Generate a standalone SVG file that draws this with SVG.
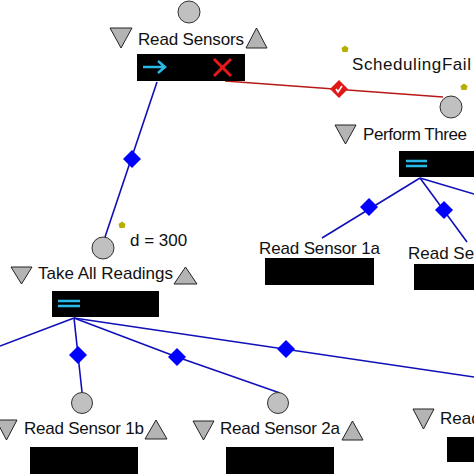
<svg xmlns="http://www.w3.org/2000/svg" width="474" height="474" viewBox="0 0 474 474">
<defs>
<style>
.lbl{font-family:"Liberation Sans",Arial,sans-serif;font-size:17px;fill:#111}
.box{fill:#000}
.port{fill:#c0c0c0;stroke:#333;stroke-width:1}
.tri{fill:#b4b4b4;stroke:#222;stroke-width:1}
.con{stroke:#1010b8;stroke-width:1.6;fill:none}
.dia{fill:#0000ff}
.mark{fill:#b5b000}
.eq{stroke:#2ab8e8;stroke-width:2.5}
</style>
<polygon id="bd" class="dia" points="0,-9 9,0 0,9 -9,0"/>
<polygon id="ym" class="mark" points="0,-3.5 3.5,-1 2.5,3 -2.5,3 -3.5,-1"/>
</defs>
<rect width="474" height="474" fill="#fff"/>

<g id="connectors">
<line class="con" x1="157" y1="82" x2="105" y2="237" stroke-width="2"/>
<use href="#bd" x="132" y="159"/>
<line x1="225" y1="81" x2="443" y2="97" stroke="#b81818" stroke-width="1.5"/>
<g transform="translate(339,89)">
<polygon points="0,-9 9,0 0,9 -9,0" fill="#e01818"/>
<path d="M-3,0 L-1,3 L3,-3" stroke="#fff" stroke-width="1.6" fill="none"/>
</g>
<line class="con" x1="420" y1="178" x2="322" y2="238"/>
<use href="#bd" x="369" y="207"/>
<line class="con" x1="420" y1="178" x2="467" y2="242"/>
<use href="#bd" x="444" y="210"/>
<line class="con" x1="420" y1="178" x2="474" y2="194"/>
<line class="con" x1="74" y1="318" x2="0" y2="346"/>
<path class="con" d="M74,318 L78,355 L82,392"/>
<use href="#bd" x="78" y="355"/>
<path class="con" d="M74,318 L177,357 L280,393"/>
<use href="#bd" x="177" y="357"/>
<line class="con" x1="74" y1="318" x2="474" y2="377"/>
<use href="#bd" x="286" y="349"/>
</g>

<g id="read-sensors">
<circle class="port" cx="189" cy="12" r="11"/>
<polygon class="tri" points="110,28 132,28 121,48"/>
<text class="lbl" x="138" y="45" textLength="106">Read Sensors</text>
<polygon class="tri" points="246,48 267,48 256.5,28"/>
<rect class="box" x="137" y="54" width="108" height="27"/>
<path d="M143,67 H164 M158,61 L165,67 L158,73" stroke="#2ab8e8" stroke-width="2.5" fill="none"/>
<path d="M214,59 L231,76 M231,59 L214,76" stroke="#e81818" stroke-width="3"/>
</g>

<g id="scheduling-fail">
<use href="#ym" x="345" y="49"/>
<text class="lbl" x="352" y="70" textLength="119">SchedulingFail</text>
<use href="#ym" x="464" y="87"/>
</g>

<g id="perform-three">
<circle class="port" cx="451" cy="107" r="11"/>
<polygon class="tri" points="335,125 356,125 345.5,144"/>
<text class="lbl" x="363" y="140" textLength="104">Perform Three</text>
<rect class="box" x="399" y="151" width="80" height="26"/>
<path class="eq" d="M406,161 H427 M406,166 H427"/>
</g>

<g id="read-sensor-1a">
<text class="lbl" x="259" y="254" textLength="121">Read Sensor 1a</text>
<rect class="box" x="265" y="258" width="109" height="27"/>
</g>

<g id="read-se">
<text class="lbl" x="408" y="259">Read Se</text>
<rect class="box" x="414" y="264" width="65" height="26"/>
</g>

<g id="take-all-readings">
<use href="#ym" x="122" y="225"/>
<text class="lbl" x="130" y="246">d = 300</text>
<circle class="port" cx="103" cy="248" r="11"/>
<polygon class="tri" points="11,267 32,267 21.5,284"/>
<text class="lbl" x="38" y="279" textLength="135">Take All Readings</text>
<polygon class="tri" points="174,284 197,284 185.5,267"/>
<rect class="box" x="52" y="291" width="107" height="26"/>
<path class="eq" d="M58,301 H80 M58,306 H80"/>
</g>

<g id="read-sensor-1b">
<circle class="port" cx="82" cy="403" r="10.5"/>
<polygon class="tri" points="-4,420 17,420 6.5,440"/>
<text class="lbl" x="24" y="434" textLength="120">Read Sensor 1b</text>
<polygon class="tri" points="145,439 167,439 156,420"/>
<rect class="box" x="30" y="447" width="108" height="30"/>
</g>

<g id="read-sensor-2a">
<circle class="port" cx="278" cy="403" r="10.5"/>
<polygon class="tri" points="193,421 214,421 203.5,440"/>
<text class="lbl" x="220" y="434" textLength="120">Read Sensor 2a</text>
<polygon class="tri" points="342,440 363,440 352.5,421"/>
<rect class="box" x="226" y="447" width="108" height="30"/>
</g>

<g id="read-bottom-right">
<polygon class="tri" points="413,409 434,409 423.5,429"/>
<text class="lbl" x="440" y="424">Read</text>
<rect class="box" x="447" y="437" width="30" height="25"/>
</g>
</svg>
